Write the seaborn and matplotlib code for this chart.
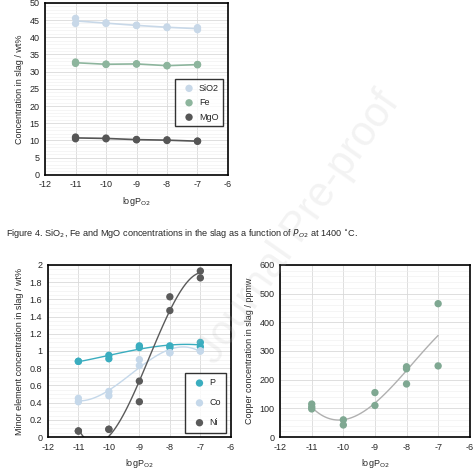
import numpy as np
import pandas as pd
import matplotlib
matplotlib.use("Agg")
import matplotlib.pyplot as plt
import seaborn as sns
from matplotlib.ticker import MultipleLocator

sns.set_style("white")
plt.rcParams['font.family'] = ['Liberation Sans', 'DejaVu Sans']
plt.rcParams['axes.unicode_minus'] = False

# top panel data (two samples per logPO2 where visible)
x_top = [-11, -11, -10, -10, -9, -9, -8, -8, -7, -7]
sio2 = [45.5, 44.0, 44.2, 44.0, 43.5, 43.4, 43.0, 42.8, 42.8, 42.2]
fe = [32.8, 32.4, 32.2, 32.1, 32.3, 32.2, 31.8, 31.7, 32.1, 32.0]
mgo = [11.0, 10.5, 10.7, 10.5, 10.3, 10.2, 10.2, 10.0, 9.8, 9.8]

# minor elements
p_el = [0.88, 0.88, 0.95, 0.91, 1.06, 1.04, 1.06, 1.04, 1.10, 1.05]
co = [0.45, 0.41, 0.53, 0.48, 0.90, 0.83, 0.98, 0.98, 1.00, 1.00]
ni = [0.07, 0.07, 0.09, 0.09, 0.65, 0.41, 1.63, 1.47, 1.93, 1.85]

# copper
x_cu = [-11, -11, -11, -10, -10, -9, -9, -8, -8, -8, -7, -7]
cu = [115, 105, 98, 60, 42, 155, 110, 245, 238, 185, 465, 248]

fig = plt.figure(figsize=(4.74, 4.74), dpi=100)
fs = 6.5


def style(ax, ylim, ystep, yminor):
    ax.set_xlim(-12, -6)
    ax.set_ylim(*ylim)
    ax.xaxis.set_major_locator(MultipleLocator(1))
    ax.yaxis.set_major_locator(MultipleLocator(ystep))
    ax.yaxis.set_minor_locator(MultipleLocator(yminor))
    ax.grid(which='major', color='#d9d9d9', lw=0.6)
    ax.grid(which='minor', axis='y', color='#eeeeee', lw=0.4)
    ax.set_axisbelow(True)
    for s in ax.spines.values():
        s.set_color('black')
        s.set_linewidth(1.2)
    ax.tick_params(labelsize=fs, length=0, pad=4)
    ax.set_xlabel(r'logP$_{\mathrm{O2}}$', fontsize=fs)


def mean_curve(x, y, deg):
    df = pd.DataFrame({'x': x, 'y': y}).groupby('x').mean().reset_index()
    c = np.polyfit(df['x'], df['y'], deg)
    xs = np.linspace(-11, -7, 100)
    return xs, np.polyval(c, xs)


ax1 = fig.add_axes([0.095, 0.631, 0.386, 0.363])
for vals, col, lab in [(sio2, '#c8d8e8', 'SiO2'), (fe, '#8db59d', 'Fe'), (mgo, '#565656', 'MgO')]:
    df = pd.DataFrame({'x': x_top, 'y': vals}).groupby('x').mean().reset_index()
    ax1.plot(df['x'], df['y'], color=col, lw=1.2, zorder=2)
    sns.scatterplot(x=x_top, y=vals, color=col, s=28, edgecolor='none', ax=ax1, label=lab, zorder=3)
style(ax1, (0, 50), 5, 1)
ax1.set_ylabel('Concentration in slag / wt%', fontsize=fs)
ax1.legend(loc='center right', bbox_to_anchor=(1.0, 0.42), fontsize=fs, frameon=True, fancybox=False,
           edgecolor='black', handletextpad=0.1, borderpad=0.5, labelspacing=0.6)

fig.text(0.012, 0.508, 'Figure 4. SiO$_2$, Fe and MgO concentrations in the slag as a function of $P_{O2}$ at 1400 $^{\\circ}$C.',
         fontsize=6.6, va='center')

ax2 = fig.add_axes([0.101, 0.078, 0.386, 0.363])
for vals, col, lab, deg in [(p_el, '#3aadbf', 'P', 3), (co, '#c5d8ea', 'Co', 3), (ni, '#5a5a5a', 'Ni', 3)]:
    xs, ys = mean_curve(x_top, vals, deg)
    ax2.plot(xs, ys, color=col, lw=1.0, zorder=2)
    sns.scatterplot(x=x_top, y=vals, color=col, s=28, edgecolor='none', ax=ax2, label=lab, zorder=3)
style(ax2, (0, 2), 0.2, 0.05)
ax2.set_yticks(np.arange(0, 2.01, 0.2))
ax2.set_yticklabels(['0', '0.2', '0.4', '0.6', '0.8', '1', '1.2', '1.4', '1.6', '1.8', '2'])
ax2.set_ylabel('Minor element concentration in slag / wt%', fontsize=fs)
ax2.legend(loc='lower right', fontsize=fs, frameon=True, fancybox=False, edgecolor='black',
           handletextpad=0.1, borderpad=0.6, labelspacing=1.2)

ax3 = fig.add_axes([0.591, 0.078, 0.400, 0.363])
xs, ys = mean_curve(x_cu, cu, 3)
ax3.plot(xs, ys, color='#b0b0b0', lw=1.0, zorder=2)
sns.scatterplot(x=x_cu, y=cu, color='#7fa892', s=28, edgecolor='none', ax=ax3, zorder=3)
style(ax3, (0, 600), 100, 20)
ax3.set_ylabel('Copper concentration in slag / ppmw', fontsize=fs)

fig.text(0.63, 0.52, 'Journal Pre-proof', fontsize=30, color='#bbbbbb', alpha=0.18, rotation=55,
         ha='center', va='center', zorder=10)

fig.savefig('out.png', dpi=100)
